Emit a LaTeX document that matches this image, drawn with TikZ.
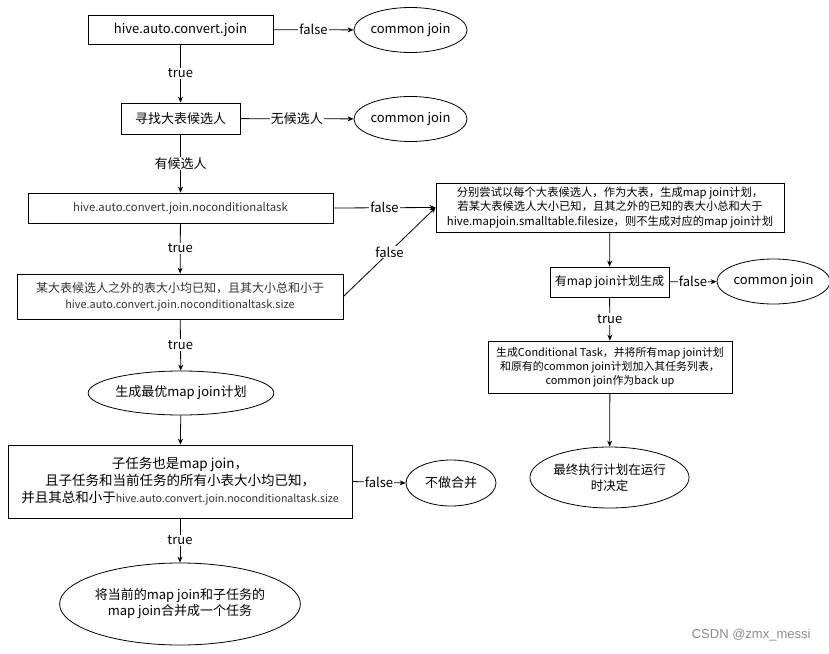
\documentclass[tikz,border=0pt]{standalone}
\usepackage{fontspec}
\setmainfont{Noto Sans CJK SC}
\newfontfamily\wmfont{Liberation Sans}
\usetikzlibrary{shapes.geometric,arrows.meta}
\definecolor{txtgrey}{HTML}{333333}
\tikzset{
  box/.style={draw=black, line width=0.8pt, fill=white, rectangle, inner sep=0pt, align=center, font=\fontsize{13}{16}\selectfont},
  oval/.style={draw=black, line width=0.8pt, fill=white, ellipse, inner sep=0pt, align=center, font=\fontsize{13}{16}\selectfont},
  arr/.style={draw=black, line width=0.8pt, -{Stealth[length=6pt,width=5pt]}},
  lbl/.style={fill=white, inner sep=1pt, font=\fontsize{13}{15}\selectfont}
}
\begin{document}
\begin{tikzpicture}[x=1pt,y=-1pt]
\useasboundingbox[fill=white] (0,0) rectangle (829,653);
% left column
\node[box, minimum width=185, minimum height=29] (b1) at (180.5,29.5) {hive.auto.convert.join};
\node[oval, minimum width=97, minimum height=45] (e1) at (410.5,30) {common join};
\node[box, minimum width=119, minimum height=31] (b2) at (180.5,118.5) {寻找大表候选人};
\node[oval, minimum width=97, minimum height=45] (e2) at (410.5,119) {common join};
\node[box, minimum width=305, minimum height=30, text=txtgrey, font=\fontsize{11.3}{14}\selectfont] (b3) at (180.5,208) {hive.auto.convert.join.noconditionaltask};
\node[box, minimum width=326, minimum height=45, text=txtgrey, font=\fontsize{12}{15.5}\selectfont] (b4) at (180,296.5) {某大表候选人之外的表大小均已知，且其大小总和小于\\{\fontsize{10.9}{15.5}\selectfont hive.auto.convert.join.noconditionaltask.size}};
\node[oval, minimum width=164, minimum height=44] (e3) at (181,393) {生成最优map join计划};
\node[box, minimum width=344, minimum height=73, font=\fontsize{13.5}{17}\selectfont] (b5) at (180,481.5) {子任务也是map join，\\且子任务和当前任务的所有小表大小均已知，\\并且其总和小于{\color{txtgrey}\fontsize{10.6}{14}\selectfont hive.auto.convert.join.noconditionaltask.size}};
\node[oval, minimum width=90, minimum height=46] (e4) at (451,483) {不做合并};
\node[oval, minimum width=196, minimum height=82] (e5) at (180,604) {将当前的map join和子任务的\\map join合并成一个任务};
% right column
\node[box, minimum width=348, minimum height=49, font=\fontsize{11.3}{14.5}\selectfont] (bR) at (610,207.5) {分别尝试以每个大表候选人，作为大表，生成map join计划，\\若某大表候选人大小已知，且其之外的已知的表大小总和大于\\hive.mapjoin.smalltable.filesize，则不生成对应的map join计划};
\node[box, minimum width=119, minimum height=30, font=\fontsize{12}{15}\selectfont] (b6) at (609.5,282) {有map join计划生成};
\node[oval, minimum width=97, minimum height=45] (e6) at (773.5,281.5) {common join};
\node[box, minimum width=244, minimum height=52, font=\fontsize{10.9}{14}\selectfont] (b7) at (610,367) {生成Conditional Task，并将所有map join计划\\和原有的common join计划加入其任务列表，\\common join作为back up};
\node[oval, minimum width=115, minimum height=61, font=\fontsize{12.5}{16}\selectfont] (e7) at (609.5,477.5) {最终执行计划在运行\\时决定};
% connectors
\draw[arr] (b1) -- node[lbl]{false} (e1);
\draw[arr] (b1) -- node[lbl]{true} (b2);
\draw[arr] (b2) -- node[lbl]{无候选人} (e2);
\draw[arr] (b2) -- node[lbl]{有候选人} (b3);
\draw[arr] (b3) -- node[lbl]{true} (b4);
\draw[arr] (b3.east) -- node[lbl]{false} (bR.west);
\draw[arr] (b4.east) -- node[lbl]{false} (bR.west);
\draw[arr] (b4) -- node[lbl]{true} (e3);
\draw[arr] (e3) -- (b5);
\draw[arr] (b5.east) -- node[lbl]{false} (e4.west);
\draw[arr] (b5) -- node[lbl]{true} (e5);
\draw[arr] (bR) -- (b6);
\draw[arr] (b6) -- node[lbl]{false} (e6);
\draw[arr] (b6) -- node[lbl]{true} (b7);
\draw[arr] (b7) -- (e7);
\node[text=black!45, font=\wmfont\fontsize{13}{15}\selectfont, anchor=east] (wm) at (814,635) {CSDN @zmx\_messi};
\end{tikzpicture}
\end{document}
